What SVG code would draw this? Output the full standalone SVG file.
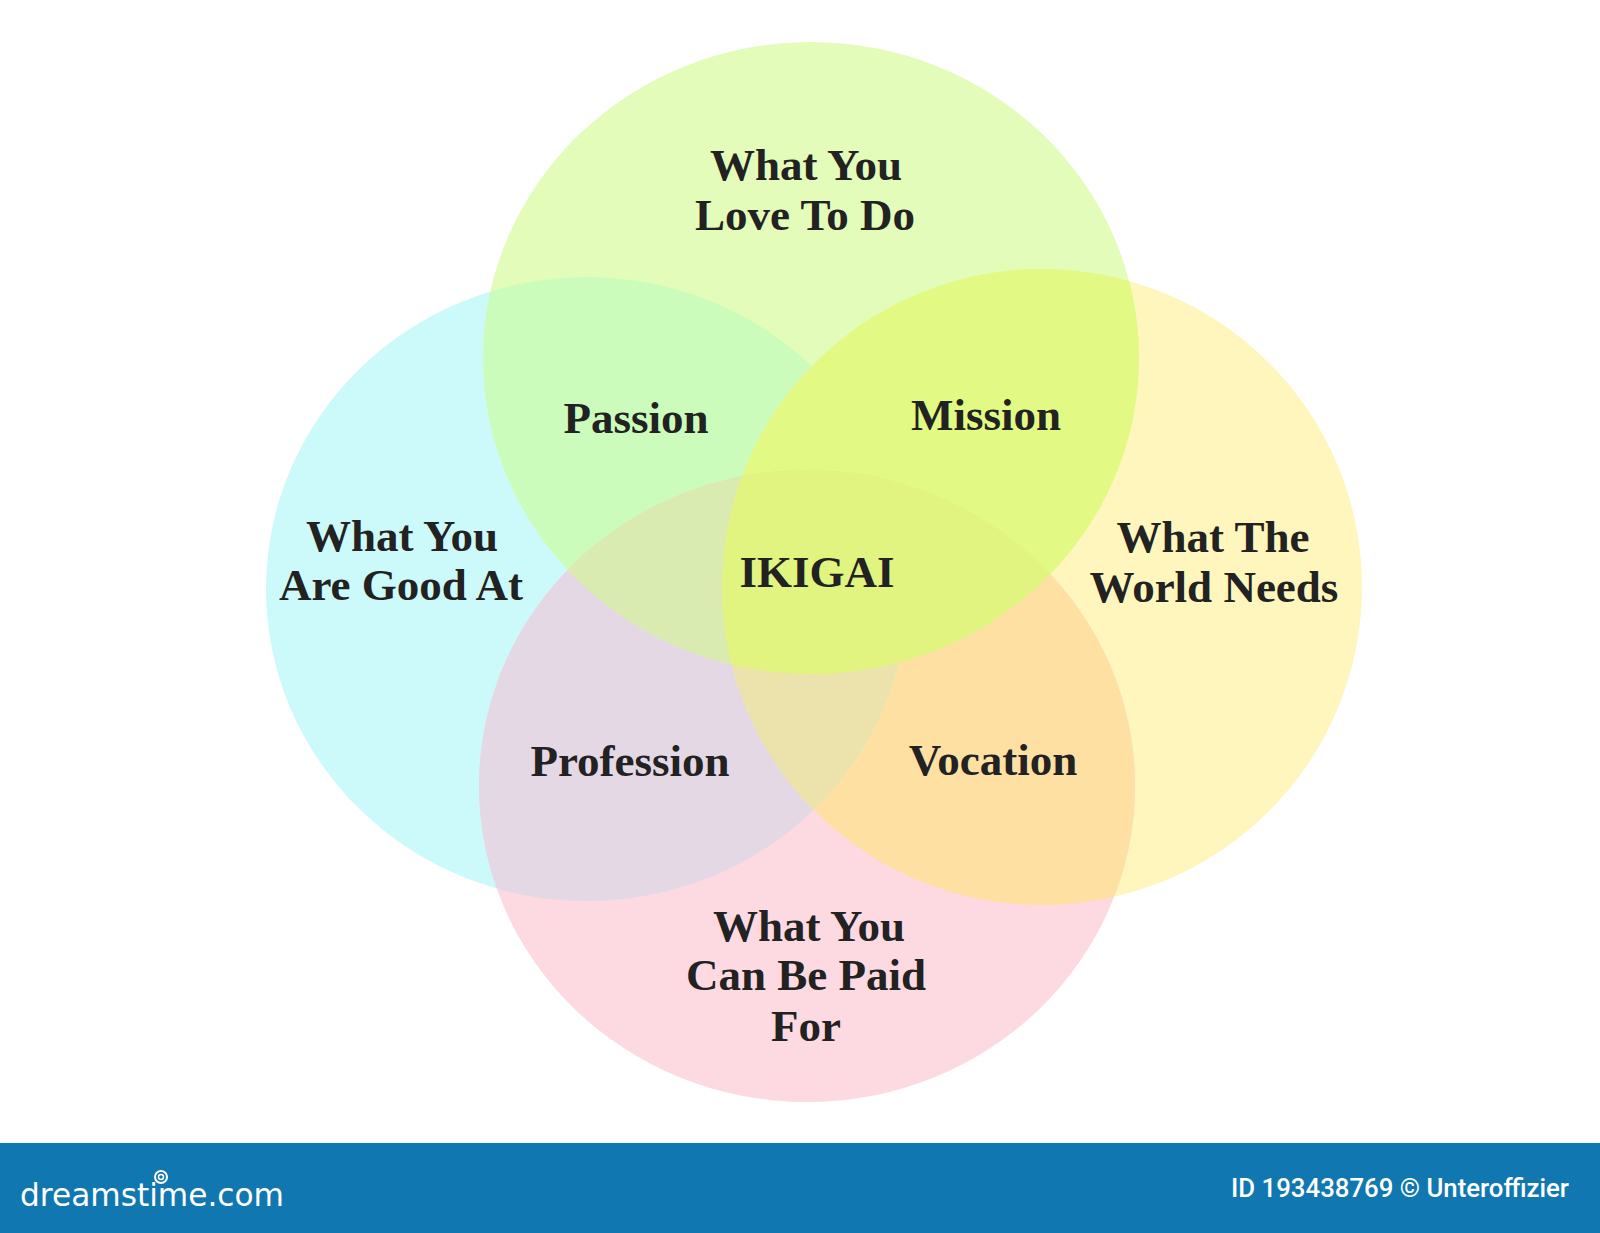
<svg xmlns="http://www.w3.org/2000/svg" width="1600" height="1233" viewBox="0 0 1600 1233">
<style>
.lbl{font-family:"Liberation Serif","Times New Roman",serif;font-weight:bold;font-size:45px;fill:#222;text-anchor:middle}
</style>
<defs>
<clipPath id="cT"><ellipse cx="811" cy="358" rx="328" ry="316"/></clipPath>
<clipPath id="cL"><ellipse cx="587" cy="589" rx="321" ry="312"/></clipPath>
<clipPath id="cR"><ellipse cx="1042" cy="587" rx="320" ry="318"/></clipPath>
<clipPath id="cB"><ellipse cx="807" cy="786" rx="328" ry="316"/></clipPath>
</defs>
<rect width="1600" height="1233" fill="#ffffff"/>
<g id="venn">
  <g id="circle-left"><ellipse cx="587" cy="589" rx="321" ry="312" fill="#ccfafa"/></g>
  <g id="circle-right"><ellipse cx="1042" cy="587" rx="320" ry="318" fill="#fef6bc"/></g>
  <g id="circle-bottom"><ellipse cx="807" cy="786" rx="328" ry="316" fill="#fdd9e2"/></g>
  <g id="circle-top"><ellipse cx="811" cy="358" rx="328" ry="316" fill="#e3fcb9"/></g>
  <!-- pairwise overlaps -->
  <g clip-path="url(#cT)"><ellipse cx="587" cy="589" rx="321" ry="312" fill="#ccfcbb"/></g>
  <g clip-path="url(#cT)"><ellipse cx="1042" cy="587" rx="320" ry="318" fill="#e2f984"/></g>
  <g clip-path="url(#cL)"><ellipse cx="807" cy="786" rx="328" ry="316" fill="#e3d8e3"/></g>
  <g clip-path="url(#cR)"><ellipse cx="807" cy="786" rx="328" ry="316" fill="#fde0a2"/></g>
  <g clip-path="url(#cT)"><ellipse cx="807" cy="786" rx="328" ry="316" fill="#dcefae"/></g>
  <g clip-path="url(#cL)"><ellipse cx="1042" cy="587" rx="320" ry="318" fill="#e8f0b0"/></g>
  <!-- triple overlaps -->
  <g clip-path="url(#cT)"><g clip-path="url(#cL)"><ellipse cx="1042" cy="587" rx="320" ry="318" fill="#e2f984"/></g></g>
  <g clip-path="url(#cT)"><g clip-path="url(#cL)"><ellipse cx="807" cy="786" rx="328" ry="316" fill="#d9ebb1"/></g></g>
  <g clip-path="url(#cT)"><g clip-path="url(#cR)"><ellipse cx="807" cy="786" rx="328" ry="316" fill="#e0f47f"/></g></g>
  <g clip-path="url(#cL)"><g clip-path="url(#cR)"><ellipse cx="807" cy="786" rx="328" ry="316" fill="#ebe3ab"/></g></g>
  <!-- quadruple overlap -->
  <g clip-path="url(#cT)"><g clip-path="url(#cL)"><g clip-path="url(#cR)"><ellipse cx="807" cy="786" rx="328" ry="316" fill="#e0f47f"/></g></g></g>
</g>
<g id="labels">
  <g id="love"><text class="lbl" x="806" y="180">What You</text><text class="lbl" x="805" y="230">Love To Do</text></g>
  <g id="passion"><text class="lbl" x="636" y="433">Passion</text></g>
  <g id="mission"><text class="lbl" x="986" y="430">Mission</text></g>
  <g id="good"><text class="lbl" x="402" y="551">What You</text><text class="lbl" x="401" y="600">Are Good At</text></g>
  <g id="ikigai"><text class="lbl" x="817" y="587">IKIGAI</text></g>
  <g id="world"><text class="lbl" x="1213" y="552">What The</text><text class="lbl" x="1214" y="602">World Needs</text></g>
  <g id="profession"><text class="lbl" x="630" y="776">Profession</text></g>
  <g id="vocation"><text class="lbl" x="993" y="775">Vocation</text></g>
  <g id="paid"><text class="lbl" x="809" y="941">What You</text><text class="lbl" x="806" y="990">Can Be Paid</text><text class="lbl" x="806" y="1041">For</text></g>
</g>
<g id="footer">
  <rect x="0" y="1143" width="1600" height="90" fill="#1177b0"/>
  <text x="20" y="1206" font-family="'DejaVu Sans',sans-serif" font-size="32" fill="#ffffff" textLength="264" lengthAdjust="spacingAndGlyphs">dreamstime.com</text>
  <circle cx="161" cy="1177" r="6" fill="none" stroke="#ffffff" stroke-width="2"/>
  <circle cx="161" cy="1177" r="2.5" fill="none" stroke="#ffffff" stroke-width="1.5"/>
  <text x="1231" y="1197" font-family="Roboto,'Liberation Sans',sans-serif" font-weight="500" font-size="26" fill="#ffffff" textLength="338" lengthAdjust="spacingAndGlyphs">ID 193438769 © Unteroffizier</text>
</g>
</svg>
